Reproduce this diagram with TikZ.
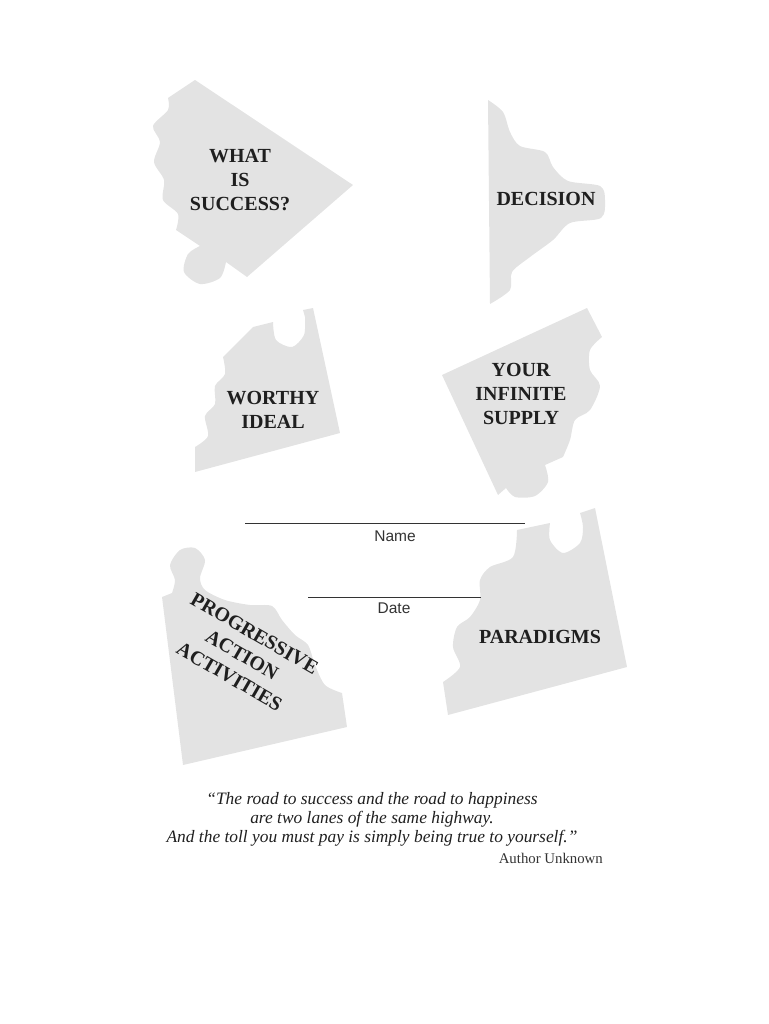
\documentclass[tikz,border=0pt]{standalone}
\usepackage{fontspec}
\setmainfont{Liberation Serif}
\setsansfont{Liberation Sans}
\begin{document}
\begin{tikzpicture}[x=1pt,y=-1pt,
  piece/.style={fill=black!11},
  lbl/.style={font=\fontsize{20}{24}\selectfont\bfseries, text=black!88, align=center, inner sep=0},
  small/.style={font=\sffamily\fontsize{15.5}{17}\selectfont, text=black!80, inner sep=0}]
\useasboundingbox (0,0) rectangle (768,1024);
% piece 1
\fill[piece] (195,80) -- (353,185) -- (247,277) -- (226,262)
  -- plot[smooth] coordinates {(226,262) (220,278) (200,284) (184,272) (188,254) (200,246)}
  -- (176,230)
  -- plot[smooth] coordinates {(176,230) (178,214) (163,200) (164,180) (154,162) (160,142) (153,126) (168,110) (168,98)} -- cycle;
% piece 2
\fill[piece] (488,100)
  -- plot[smooth] coordinates {(488,100) (503,112) (510,132) (520,146) (545,152) (553,167) (568,181) (600,186) (605,200) (601,218) (570,223) (553,240) (530,257) (512,272) (510,290) (490,304)} -- cycle;
% piece 3
\fill[piece] (313,308) -- (340,433) -- (195,472) -- (195,447)
  -- plot[smooth] coordinates {(195,447) (208,436) (205,416) (215,404) (215,386) (225,374) (223,357)}
  -- (253,327) -- (273,322)
  -- plot[smooth] coordinates {(273,322) (276,340) (292,347) (304,335) (305,317)} -- (303,310) -- cycle;
% piece 4
\fill[piece] (442,375) -- (587,308) -- (602,337)
  -- plot[smooth] coordinates {(602,337) (590,350) (590,370) (600,386) (590,410) (575,420) (570,440) (563,457)}
  -- (545,465)
  -- plot[smooth] coordinates {(545,465) (548,482) (535,496) (515,497) (506,488)} -- (498,495) -- cycle;
% piece 5
\fill[piece] (162,597) -- (172,593)
  -- plot[smooth] coordinates {(172,593) (175,580) (170,565) (180,550) (195,548) (205,560) (200,578) (205,590) (225,600) (250,605) (272,606) (282,620) (295,635) (308,645) (315,665) (325,685) (342,693)}
  -- (347,727) -- (183,765) -- cycle;
% piece 6
\fill[piece] (595,508) -- (627,667) -- (448,715) -- (443,682)
  -- plot[smooth] coordinates {(443,682) (460,667) (453,647) (457,627) (470,617) (480,600) (480,580) (490,567) (513,557) (517,530)}
  -- (550,523)
  -- plot[smooth] coordinates {(550,523) (550,540) (563,553) (580,543) (583,527) (580,513)} -- cycle;
% labels
\node[lbl] (t1) at (240,180) {WHAT\\IS\\SUCCESS?};
\node[lbl] (t2) at (546,199) {DECISION};
\node[lbl] (t3) at (273,410) {WORTHY\\IDEAL};
\node[lbl] (t4) at (521,394) {YOUR\\INFINITE\\SUPPLY};
\node[lbl, rotate=-30, font=\fontsize{20}{25}\selectfont\bfseries] (t5) at (242,655) {PROGRESSIVE\\ACTION\\ACTIVITIES};
\node[lbl] (t6) at (540,637) {PARADIGMS};
% form
\coordinate (n1) at (245,523); \coordinate (n2) at (525,523);
\draw[line width=0.6pt, black!80] (n1) -- (n2);
\node[small] (name) at (395,536) {Name};
\coordinate (d1) at (308,597); \coordinate (d2) at (481,597);
\draw[line width=0.6pt, black!80] (d1) -- (d2);
\node[small] (date) at (394,608) {Date};
% quote
\node[font=\itshape\fontsize{17.4}{19}\selectfont, align=center, text=black!88, inner sep=0] (q) at (372,819)
  {“The road to success and the road to happiness\\are two lanes of the same highway.\\And the toll you must pay is simply being true to yourself.”};
\node[font=\fontsize{14.8}{16}\selectfont, text=black!80, anchor=east, inner sep=0] (au) at (603,858) {Author Unknown};
\end{tikzpicture}
\end{document}
